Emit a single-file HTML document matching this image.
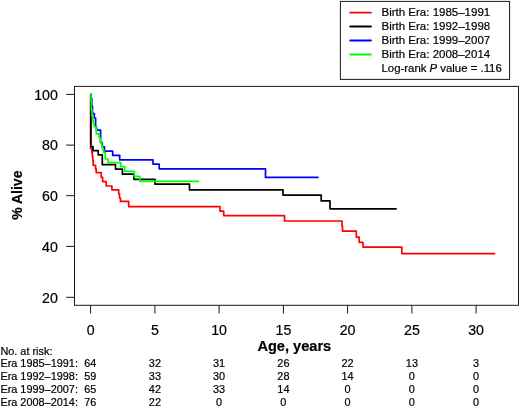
<!DOCTYPE html>
<html><head><meta charset="utf-8"><title>Survival by birth era</title>
<style>
html,body{margin:0;padding:0;background:#fff;}
svg{display:block;font-family:"Liberation Sans",Arial,sans-serif;}
</style></head>
<body>
<svg width="520" height="408" viewBox="0 0 520 408">
<rect width="520" height="408" fill="#fff"/>
<!-- plot box -->
<g fill="none" stroke="#1a1a1a" stroke-width="1">
<rect x="74.5" y="86.4" width="444" height="218.9"/>
<path d="M66.2 94.4H74.5M66.2 145.1H74.5M66.2 195.7H74.5M66.2 246.4H74.5M66.2 297.3H74.5"/>
<path d="M90.6 305.3V313.5M154.9 305.3V313.5M219.1 305.3V313.5M283.4 305.3V313.5M347.6 305.3V313.5M411.9 305.3V313.5M476.1 305.3V313.5"/>
</g>
<!-- curves -->
<g fill="none" stroke-width="1.7" stroke-linejoin="round" stroke-linecap="round">
<path stroke="#ff0000" d="M90.6 94.4V148.5H91.8V152.5H92.4V156.5H92.8V160.5H93.2V165.3H95.6V169H96.2V172.6H101.2V177.3H102.6V181.7H106.2V186H111.9V189.8H118.7V194H119.5V198H120.5V201.4H128.7V206.6H220V211.2H223.7V215.6H284.5V221H342V226H342.5V231.1H356.3V237.1H359.2V242.4H363V247.1H401.8V253.6H494.6"/>
<path stroke="#000000" d="M90.9 94.4V146.6H93V150.7H98.2V154.8H102.3V164.7H115.5V169.1H122.4V174.2H134V179.3H155V184.2H189.5V189.8H283V195.1H321.2V200.9H330V208.8H396.1"/>
<path stroke="#0000ff" d="M91 94.4V98H91.8V106H92.5V113.5H94.3V118H95.6V126.6H96.5V130.2H100.6V142.6H102.3V146.9H104.5V151.2H112.7V155.4H119.7V159.9H153V164.2H159.2V168.8H265.5V177.4H317.9"/>
<path stroke="#00ff00" d="M91 93.6V101H91.4V109.6H92V116H92.6V120H93.3V123.5H94.3V126.8H96.3V133.8H99.3V138H100.5V142.5H101.7V146H102.5V149.5H103.6V152.4H105.2V159H108.1V162.7H120.8V166.7H124.8V171.4H134.3V176.3H139.9V181.4H198.4"/>
</g>
<!-- legend -->
<rect x="340.4" y="1.4" width="169.2" height="78" fill="#fff" stroke="#1a1a1a" stroke-width="1"/>
<g stroke-width="1.8" fill="none" stroke-linecap="round">
<path stroke="#ff0000" d="M350.2 12.6H371"/>
<path stroke="#000000" d="M350.2 26.5H371"/>
<path stroke="#0000ff" d="M350.2 40.5H371"/>
<path stroke="#00ff00" d="M350.2 54.5H371"/>
</g>
<g font-size="11.5" fill="#000" stroke="#000" stroke-width="0.2">
<text x="381.5" y="16.1">Birth Era: 1985–1991</text>
<text x="381.5" y="30.1">Birth Era: 1992–1998</text>
<text x="381.5" y="44">Birth Era: 1999–2007</text>
<text x="381.5" y="58.1">Birth Era: 2008–2014</text>
<text x="381.5" y="72.1" font-size="11.38">Log-rank <tspan font-style="italic">P</tspan> value = .116</text>
</g>
<!-- y tick labels -->
<g font-size="14.2" fill="#000" stroke="#000" stroke-width="0.2" text-anchor="end">
<text x="57.9" y="99.7">100</text>
<text x="57.9" y="150.4">80</text>
<text x="57.9" y="201">60</text>
<text x="57.9" y="251.7">40</text>
<text x="57.9" y="302.6">20</text>
</g>
<!-- x tick labels -->
<g font-size="14.2" fill="#000" stroke="#000" stroke-width="0.2" text-anchor="middle">
<text x="90.6" y="335">0</text>
<text x="154.9" y="335">5</text>
<text x="219.1" y="335">10</text>
<text x="283.4" y="335">15</text>
<text x="347.6" y="335">20</text>
<text x="411.9" y="335">25</text>
<text x="476.1" y="335">30</text>
</g>
<text x="294.3" y="351" font-size="14.6" font-weight="bold" fill="#000" stroke="#000" stroke-width="0.2" text-anchor="middle">Age, years</text>
<text transform="translate(22.3 195.2) rotate(-90)" font-size="14" font-weight="bold" fill="#000" stroke="#000" stroke-width="0.2" text-anchor="middle">% Alive</text>
<!-- risk table -->
<g font-size="10.9" fill="#000" stroke="#000" stroke-width="0.2">
<text x="0.4" y="354.6">No. at risk:</text>
<text x="0.4" y="367.3">Era 1985–1991:</text>
<text x="0.4" y="379.9">Era 1992–1998:</text>
<text x="0.4" y="392.6">Era 1999–2007:</text>
<text x="0.4" y="406.3">Era 2008–2014:</text>
</g>
<g font-size="10.9" fill="#000" stroke="#000" stroke-width="0.2" text-anchor="middle">
<text x="90.3" y="367.3">64</text><text x="154.9" y="367.3">32</text><text x="219.1" y="367.3">31</text><text x="283.4" y="367.3">26</text><text x="347.6" y="367.3">22</text><text x="411.9" y="367.3">13</text><text x="476.1" y="367.3">3</text>
<text x="90.3" y="379.9">59</text><text x="154.9" y="379.9">33</text><text x="219.1" y="379.9">30</text><text x="283.4" y="379.9">28</text><text x="347.6" y="379.9">14</text><text x="411.9" y="379.9">0</text><text x="476.1" y="379.9">0</text>
<text x="90.3" y="392.6">65</text><text x="154.9" y="392.6">42</text><text x="219.1" y="392.6">33</text><text x="283.4" y="392.6">14</text><text x="347.6" y="392.6">0</text><text x="411.9" y="392.6">0</text><text x="476.1" y="392.6">0</text>
<text x="90.3" y="406.3">76</text><text x="154.9" y="406.3">22</text><text x="219.1" y="406.3">0</text><text x="283.4" y="406.3">0</text><text x="347.6" y="406.3">0</text><text x="411.9" y="406.3">0</text><text x="476.1" y="406.3">0</text>
</g>
</svg>
</body></html>
